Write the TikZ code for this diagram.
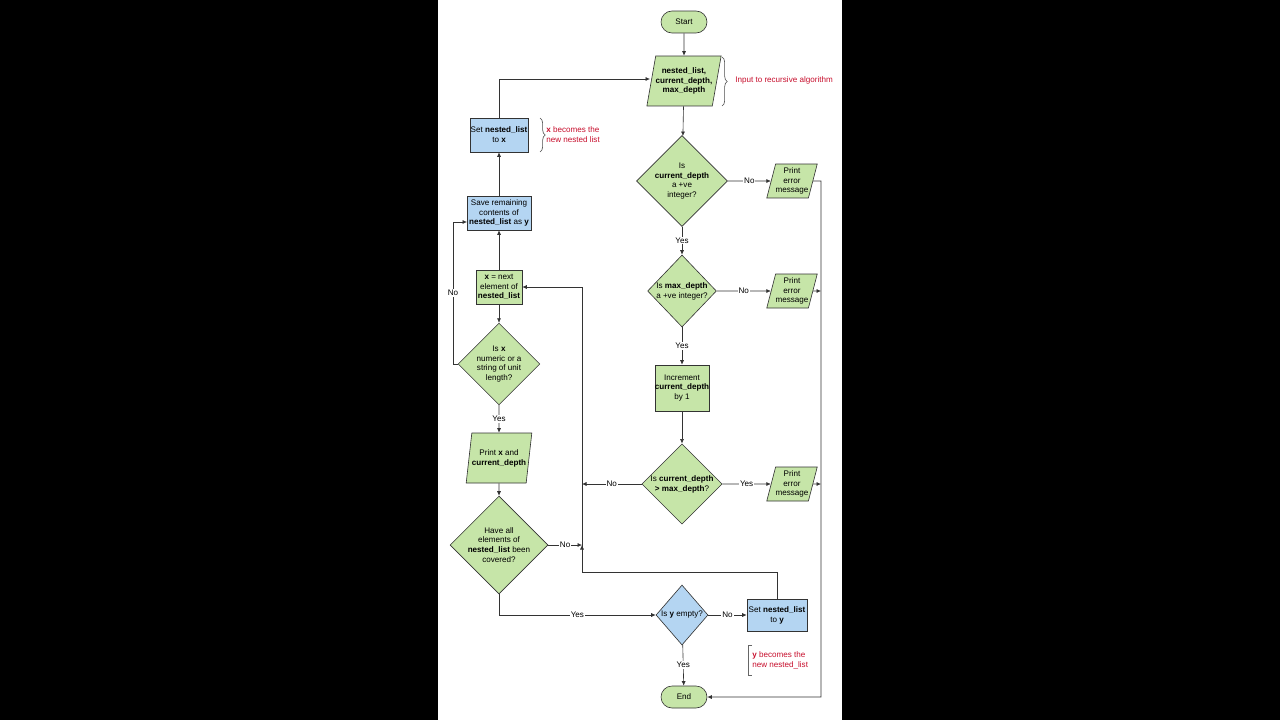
\documentclass[tikz,border=0pt]{standalone}
\usepackage{fontspec}
\setmainfont{Liberation Sans}
\usetikzlibrary{shapes.geometric,shapes.misc,arrows.meta,decorations.pathreplacing}
\definecolor{boxgreen}{HTML}{C6E5A8}
\definecolor{boxblue}{HTML}{B4D5F2}
\definecolor{notered}{HTML}{C8102E}
\begin{document}
\begin{tikzpicture}[x=0.02cm,y=-0.02cm,line width=0.35pt,
    every node/.style={font=\fontsize{4.6}{5.6}\selectfont,align=center,inner sep=0pt},
    flow/.style={-{Latex[length=0.9mm,width=0.8mm]},draw=black!80},
    term/.style={draw=black!80,fill=boxgreen,rounded rectangle,minimum width=0.92cm,minimum height=0.44cm},
    io/.style={draw=black!80,fill=boxgreen,trapezium,trapezium left angle=72,trapezium right angle=108,trapezium stretches=true},
    proc/.style={draw=black!80,rectangle},
    dec/.style={draw=black!80,diamond,aspect=1},
    lbl/.style={fill=white,inner sep=0.5pt},
    note/.style={text=notered,align=left}]

    % --------------------------------------------------------- %
    % ------------- background
    % --------------------------------------------------------- %
    \fill[black] (0,0) rectangle (1280,720);
    \fill[white] (438,0) rectangle (842,720);

    % --------------------------------------------------------- %
    % ------------- right column
    % --------------------------------------------------------- %
    \node[term] (start) at (684,22) {Start};
    \node[io,minimum width=1.42cm,minimum height=1cm] (input) at (684,81) {\textbf{nested\_list,}\\\textbf{current\_depth,}\\\textbf{max\_depth}};
    \node[dec,fill=boxgreen,minimum width=1.36cm,minimum height=1.44cm] (posc) at (682,181) {Is\\\textbf{current\_depth}\\a +ve\\integer?};
    \node[io,minimum width=0.88cm,minimum height=0.68cm] (err1) at (792,181) {Print\\error\\message};
    \node[dec,fill=boxgreen,minimum width=1.36cm,minimum height=1.44cm] (posm) at (682,291) {Is \textbf{max\_depth}\\a +ve integer?};
    \node[io,minimum width=0.88cm,minimum height=0.68cm] (err2) at (792,291) {Print\\error\\message};
    \node[proc,fill=boxgreen,minimum width=1.08cm,minimum height=0.92cm] (inc) at (682,388) {Increment\\\textbf{current\_depth}\\by 1};
    \node[dec,fill=boxgreen,minimum width=1.52cm,minimum height=1.56cm] (gtmax) at (682,484) {Is \textbf{current\_depth}\\\textbf{> max\_depth}?};
    \node[io,minimum width=0.88cm,minimum height=0.68cm] (err3) at (792,484) {Print\\error\\message};
    \node[dec,fill=boxblue,minimum width=1.04cm,minimum height=1.2cm] (yempty) at (682,615) {Is \textbf{y} empty?};
    \node[proc,fill=boxblue,minimum width=1.2cm,minimum height=0.64cm] (sety) at (777,615) {Set \textbf{nested\_list}\\to \textbf{y}};
    \node[term] (end) at (684,697) {End};

    % --------------------------------------------------------- %
    % ------------- left column
    % --------------------------------------------------------- %
    \node[proc,fill=boxblue,minimum width=1.16cm,minimum height=0.68cm] (setx) at (499,135) {Set \textbf{nested\_list}\\to \textbf{x}};
    \node[proc,fill=boxblue,minimum width=1.28cm,minimum height=0.68cm] (save) at (499,213) {Save remaining\\contents of\\\textbf{nested\_list} as \textbf{y}};
    \node[proc,fill=boxgreen,minimum width=0.92cm,minimum height=0.68cm] (next) at (499,287) {\textbf{x} = next\\element of\\\textbf{nested\_list}};
    \node[dec,fill=boxgreen,minimum width=1.36cm,minimum height=1.24cm] (unit) at (499,364) {Is \textbf{x}\\numeric or a\\string of unit\\length?};
    \node[io,minimum width=1.12cm,minimum height=1cm] (printx) at (499,458) {Print \textbf{x} and\\\textbf{current\_depth}};
    \node[dec,fill=boxgreen,minimum width=1.52cm,minimum height=1.36cm] (covered) at (499,545) {Have all\\elements of\\\textbf{nested\_list} been\\covered?};

    % --------------------------------------------------------- %
    % ------------- notes
    % --------------------------------------------------------- %
    \draw[black!70,decorate,decoration={brace,amplitude=3pt}] (722,57) -- (722,106);
    \node[note,anchor=west] (innote) at (735,80) {Input to recursive algorithm};
    \draw[black!70,decorate,decoration={brace,amplitude=3pt}] (540,118) -- (540,152);
    \node[note,anchor=west] (xnote) at (546,135) {\textbf{x} becomes the\\new nested list};
    \draw[black!60] (752,645) -- (748,645) -- (748,675) -- (752,675);
    \node[note,anchor=west] (ynote) at (752,660) {\textbf{y} becomes the\\new nested\_list};

    % --------------------------------------------------------- %
    % ------------- connectors
    % --------------------------------------------------------- %
    \coordinate (eright) at (821,697);
    \coordinate (loopx) at (582,572);
    \coordinate (savein) at (467,222);
    \coordinate (inputin) at (650,79);
    \draw[flow] (start) -- (input);
    \draw[flow] (input) -- (posc);
    \draw[flow] (posc) -- node[lbl] {No} (err1);
    \draw[flow] (posc) -- node[lbl] {Yes} (posm);
    \draw[flow] (posm) -- node[lbl] {No} (err2);
    \draw[flow] (posm) -- node[lbl] {Yes} (inc);
    \draw[flow] (inc) -- (gtmax);
    \draw[flow] (gtmax) -- node[lbl] {Yes} (err3);
    \draw[flow] (err1.east) -- (821,181) -- (eright) -- (end);
    \draw[flow] (err2) -- (821,291);
    \draw[flow] (err3) -- (821,484);
    \draw[flow] (gtmax) -- node[lbl] {No} (582,484);
    \draw[flow] (sety.north) -- (777,572) -- (loopx) -- (582,287) -- (next);
    \draw[flow] (loopx) -- (582,545);
    \draw[flow] (covered) -- node[lbl] {No} (582,545);
    \draw[flow] (covered.south) -- (499,615) -- node[lbl] {Yes} (yempty);
    \draw[flow] (yempty) -- node[lbl] {No} (sety);
    \draw[flow] (yempty) -- node[lbl] {Yes} (end);
    \draw[flow] (next) -- (unit);
    \draw[flow] (unit) -- node[lbl] {Yes} (printx);
    \draw[flow] (printx) -- (covered);
    \draw[flow] (unit.west) -- (453,364) -- node[lbl] {No} (453,222) -- (savein);
    \draw[flow] (next) -- (save);
    \draw[flow] (save) -- (setx);
    \draw[flow] (setx.north) -- (499,79) -- (inputin);

\end{tikzpicture}
\end{document}
